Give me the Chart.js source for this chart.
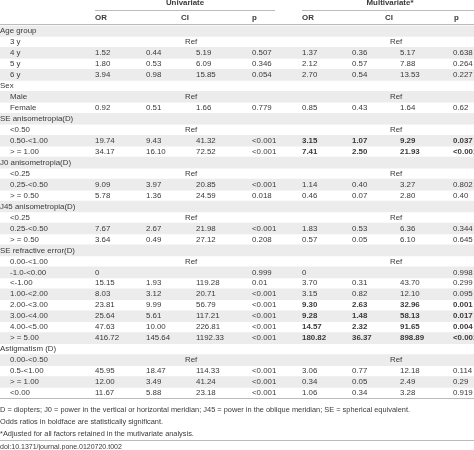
<!DOCTYPE html>
<html><head><meta charset="utf-8">
<script src="https://cdn.jsdelivr.net/npm/chart.js@4"></script>
<style>html,body{margin:0;padding:0;background:#fff}#wrap{width:474px;height:450px}</style>
</head><body><div id="wrap"><canvas id="c"></canvas></div>
<script>
const rowLabels=["Age group","3 y","4 y","5 y","6 y","Sex","Male","Female","SE anisometropia(D)","<0.50","0.50-<1.00","> = 1.00","J0 anisometropia(D)","<0.25","0.25-<0.50","> = 0.50","J45 anisometropia(D)","<0.25","0.25-<0.50","> = 0.50","SE refractive error(D)","0.00-<1.00","-1.0-<0.00","<-1.00","1.00-<2.00","2.00-<3.00","3.00-<4.00","4.00-<5.00","> = 5.00","Astigmatism (D)","0.00-<0.50","0.5-<1.00","> = 1.00","<0.00"];
const groupRows=[0,5,8,12,16,20,29];
const refRows=[1,6,9,13,17,21,30];
const boldRows=[10,11,25,26,27,28];
const uniOR=["","","1.52","1.80","3.94","","","0.92","","","19.74","34.17","","","9.09","5.78","","","7.67","3.64","","","0","15.15","8.03","23.81","25.64","47.63","416.72","","","45.95","12.00","11.67"];
const uniLo=["","","0.44","0.53","0.98","","","0.51","","","9.43","16.10","","","3.97","1.36","","","2.67","0.49","","","","1.93","3.12","9.99","5.61","10.00","145.64","","","18.47","3.49","5.88"];
const uniHi=["","","5.19","6.09","15.85","","","1.66","","","41.32","72.52","","","20.85","24.59","","","21.98","27.12","","","","119.28","20.71","56.79","117.21","226.81","1192.33","","","114.33","41.24","23.18"];
const uniP=["","","0.507","0.346","0.054","","","0.779","","","<0.001","<0.001","","","<0.001","0.018","","","<0.001","0.208","","","0.999","0.01","<0.001","<0.001","<0.001","<0.001","<0.001","","","<0.001","<0.001","<0.001"];
const mulOR=["","","1.37","2.12","2.70","","","0.85","","","3.15","7.41","","","1.14","0.46","","","1.83","0.57","","","0","3.70","3.15","9.30","9.28","14.57","180.82","","","3.06","0.34","1.06"];
const mulLo=["","","0.36","0.57","0.54","","","0.43","","","1.07","2.50","","","0.40","0.07","","","0.53","0.05","","","","0.31","0.82","2.63","1.48","2.32","36.37","","","0.77","0.05","0.34"];
const mulHi=["","","5.17","7.88","13.53","","","1.64","","","9.29","21.93","","","3.27","2.80","","","6.36","6.10","","","","43.70","12.10","32.96","58.13","91.65","898.89","","","12.18","2.49","3.28"];
const mulP=["","","0.638","0.264","0.227","","","0.62","","","0.037","<0.001","","","0.802","0.40","","","0.344","0.645","","","0.998","0.299","0.095","0.001","0.017","0.004","<0.001","","","0.114","0.29","0.919"];
const colX=[95,146,196,252,302,352,400,453];
const footnotes=["D = diopters; J0 = power in the vertical or horizontal meridian; J45 = power in the oblique meridian; SE = spherical equivalent.","Odds ratios in boldface are statistically significant.","*Adjusted for all factors retained in the mutivariate analysis."];
const doi="doi:10.1371/journal.pone.0120720.t002";
const stripes=rowLabels.map((_,i)=>i%2===0?[0,474]:null);
const F='"Liberation Sans", Arial, sans-serif';
const tablePlugin={id:'tbl',afterDatasetsDraw(ch){
 const c=ch.ctx,y=ch.scales.y;c.save();c.textBaseline='middle';
 const txt=(s,x,yy,al,b,sz)=>{c.font=(b?'bold ':'')+(sz||7.9)+'px '+F;c.textAlign=al||'left';c.fillText(s,x,yy);};
 c.fillStyle='#3a3a3a';
 txt('Univariate',185,3,'center',true);txt('Multivariate*',390,3,'center',true);
 ['OR','CI','p'].forEach((h,k)=>{txt(h,[95,181,252][k],18,'left',true);txt(h,[302,385,454][k],18,'left',true);});
 c.strokeStyle='#bbb';c.lineWidth=1;
 const ln=(x1,x2,yy)=>{c.beginPath();c.moveTo(x1,yy);c.lineTo(x2,yy);c.stroke();};
 ln(95,275,10.5);ln(302,474,10.5);ln(0,474,24.5);ln(0,474,398.5);ln(0,474,440.5);
 rowLabels.forEach((lab,i)=>{const yy=y.getPixelForValue(i);c.fillStyle='#3a3a3a';
  const g=groupRows.includes(i);txt(lab,g?0:10,yy);
  if(refRows.includes(i)){txt('Ref',185,yy);txt('Ref',390,yy);return;}
  const b=boldRows.includes(i);
  [uniOR,uniLo,uniHi,uniP].forEach((a,k)=>txt(a[i],colX[k],yy));
  [mulOR,mulLo,mulHi,mulP].forEach((a,k)=>txt(a[i],colX[k+4],yy,'left',b));
 });
 c.fillStyle='#3a3a3a';footnotes.forEach((f,k)=>txt(f,0,410+k*12,'left',false,7.4));
 txt(doi,0,447,'left',false,7);
 c.restore();}};
new Chart(document.getElementById('c'),{type:'bar',
 data:{labels:rowLabels,datasets:[{data:stripes,backgroundColor:'#ececec',barPercentage:1,categoryPercentage:1,borderWidth:0}]},
 options:{indexAxis:'y',responsive:true,maintainAspectRatio:false,animation:false,
  layout:{padding:{top:25.5,bottom:51.5,left:0,right:0}},
  plugins:{legend:{display:false},tooltip:{enabled:false}},
  scales:{x:{type:'linear',min:0,max:474,display:false},y:{display:false,offset:true,grid:{display:false}}}},
 plugins:[tablePlugin]});
</script></body></html>
